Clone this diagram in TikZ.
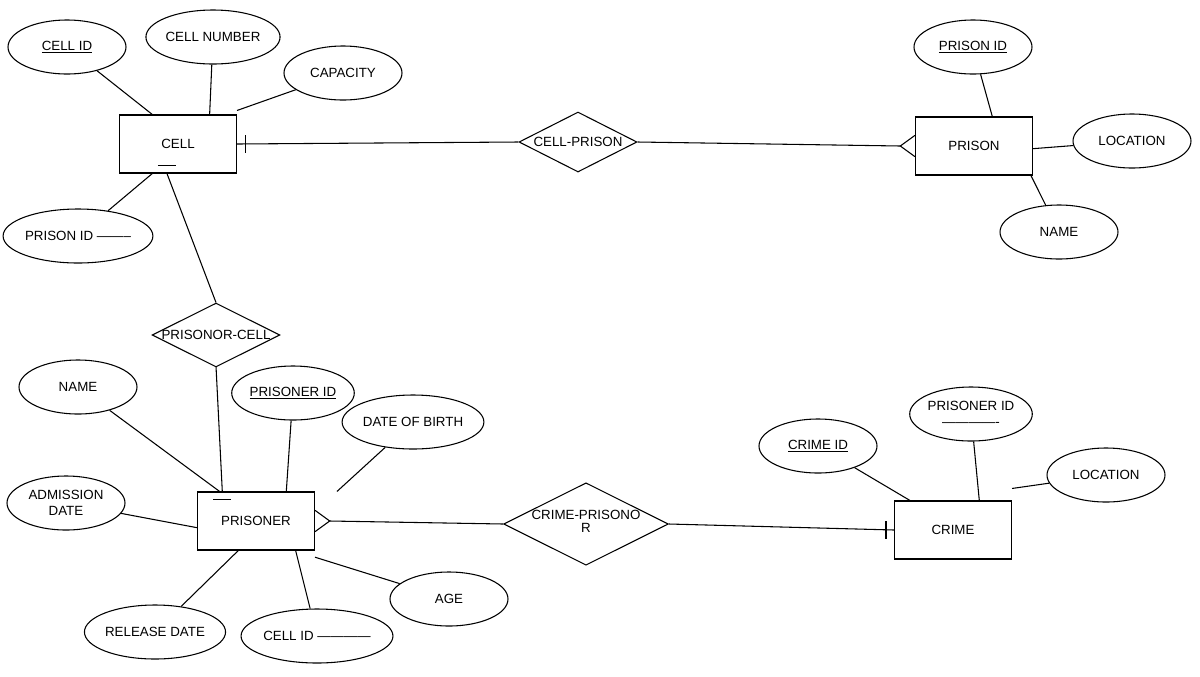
\documentclass[tikz,border=0pt]{standalone}
\usepackage{fontspec}
\setmainfont{Liberation Sans}
\usetikzlibrary{shapes.geometric}
\begin{document}
\begin{tikzpicture}[x=0.75pt,y=-0.75pt,line width=0.8pt,
  every node/.style={font=\fontsize{10}{12}\selectfont},
  ent/.style={draw,rectangle,minimum width=87.75pt,minimum height=43.5pt,inner sep=0pt},
  att/.style={draw,ellipse,minimum width=88.5pt,minimum height=40.5pt,inner sep=0pt,align=center},
  rel/.style={draw,diamond,aspect=2,minimum width=88.5pt,minimum height=45pt,inner sep=0pt,align=center}]
\useasboundingbox (0,0) rectangle (1200,676);
% entities
\node[ent] (cell) at (178,144) {CELL};
\node[ent] (prison) at (974,146) {PRISON};
\node[ent] (prisoner) at (256,521) {PRISONER};
\node[ent] (crime) at (953,530) {CRIME};
% relationships
\node[rel] (cp) at (578,142) {CELL-PRISON};
\node[rel] (pc) at (216,335) {PRISONOR-CELL};
\node[rel] (crp) at (586,524) {\raisebox{4pt}{\shortstack{CRIME-PRISONO\\R}}};
% attributes
\node[att] (cid) at (67,47) {\underline{CELL ID}};
\node[att] (cnum) at (213,37) {CELL NUMBER};
\node[att] (cap) at (343,73) {CAPACITY};
\node[att] (pidl) at (78,236) {PRISON ID --------};
\node[att] (pid) at (973,47) {\underline{PRISON ID}};
\node[att] (ploc) at (1132,141) {LOCATION};
\node[att] (pname) at (1059,232) {NAME};
\node[att] (name) at (78,387) {NAME};
\node[att] (prid) at (293,393) {\underline{PRISONER ID}};
\node[att] (dob) at (413,422) {DATE OF BIRTH};
\node[att] (adm) at (66,503) {ADMISSION\\DATE};
\node[att] (rel) at (155,632) {RELEASE DATE};
\node[att] (pcid) at (317,636) {CELL ID ------------};
\node[att] (age) at (449,599) {AGE};
\node[att] (crid) at (818,446) {\underline{CRIME ID}};
\node[att] (cprid) at (971,414) {PRISONER ID\\-------------};
\node[att] (cloc) at (1106,475) {LOCATION};
% attribute lines
\draw (cid) -- ([xshift=25]cell.north west);
\draw (cnum) -- ([xshift=68]cell.north west);
\draw (cap) -- ([yshift=3]cell.north east);
\draw (pidl) -- ([xshift=25]cell.south west);
\draw (pid) -- ([xshift=58]prison.north west);
\draw (ploc) -- ([yshift=-2]prison.east);
\draw (pname) -- ([xshift=87]prison.south west);
\draw (name) -- ([xshift=17]prisoner.north west);
\draw (prid) -- ([xshift=67]prisoner.north west);
\draw (dob) -- ([xshift=105]prisoner.north west);
\draw (adm) -- ([yshift=-5]prisoner.west);
\draw (rel) -- ([xshift=31]prisoner.south west);
\draw (pcid) -- ([xshift=74]prisoner.south west);
\draw (age) -- ([yshift=-5]prisoner.south east);
\draw (crid) -- ([xshift=12]crime.north west);
\draw (cprid) -- ([xshift=64]crime.north west);
\draw (cloc) -- ([yshift=9]crime.north east);
% relationship lines
\draw (cell.east) -- (cp.west);
\draw ([xshift=6]cell.east) ++(0,-9) -- ++(0,18);
\draw (cp.east) -- ([xshift=-11]prison.west);
\draw ([yshift=-8]prison.west) -- ([xshift=-11]prison.west) -- ([yshift=8]prison.west);
\draw ([xshift=36]cell.south west) -- (pc.north);
\draw ([xshift=36,yshift=6]cell.south west) ++(-9,0) -- ++(18,0);
\draw ([yshift=1]pc.south) -- ([xshift=19]prisoner.north west);
\draw ([xshift=19,yshift=-6]prisoner.north west) ++(-9,0) -- ++(18,0);
\draw ([xshift=11]prisoner.east) -- (crp.west);
\draw ([yshift=-8]prisoner.east) -- ([xshift=11]prisoner.east) -- ([yshift=8]prisoner.east);
\draw (crp.east) -- (crime.west);
\draw ([xshift=-6]crime.west) ++(0,-9) -- ++(0,18);
\end{tikzpicture}
\end{document}
